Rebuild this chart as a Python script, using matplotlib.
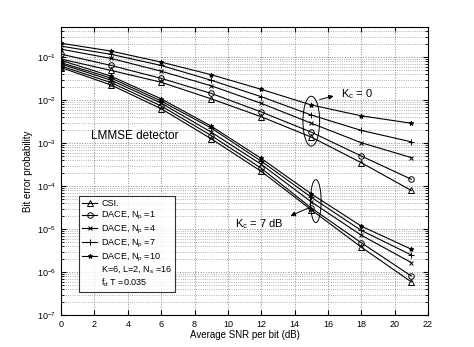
import numpy as np
import matplotlib
matplotlib.use("Agg")
import matplotlib.pyplot as plt
from matplotlib.lines import Line2D
from matplotlib.ticker import NullFormatter

plt.rcParams["font.family"] = ["Liberation Sans", "DejaVu Sans"]

snr = [0, 3, 6, 9, 12, 15, 18, 21]

# K_c = 0 (curvas superiores)
csi_k0 = [0.090, 0.049, 0.026, 0.0107, 0.0041, 0.00138, 3.5e-4, 7.9e-5]
np1_k0 = [0.117, 0.064, 0.032, 0.0143, 0.0053, 0.0018, 5.0e-4, 1.44e-4]
np4_k0 = [0.153, 0.093, 0.047, 0.0215, 0.0084, 0.0029, 1.02e-3, 4.6e-4]
np7_k0 = [0.180, 0.116, 0.064, 0.029, 0.012, 0.0045, 1.97e-3, 1.07e-3]
np10_k0 = [0.210, 0.138, 0.0765, 0.039, 0.0178, 0.0077, 4.3e-3, 2.9e-3]

# K_c = 7 dB (curvas inferiores)
csi_k7 = [0.057, 0.0224, 0.0063, 0.00126, 2.2e-4, 2.8e-5, 3.8e-6, 5.9e-7]
np1_k7 = [0.062, 0.0255, 0.0073, 0.0015, 2.6e-4, 3.1e-5, 4.8e-6, 8.1e-7]
np4_k7 = [0.069, 0.029, 0.0085, 0.0018, 3.2e-4, 4.3e-5, 7.2e-6, 1.66e-6]
np7_k7 = [0.074, 0.0325, 0.0095, 0.00224, 3.8e-4, 5.5e-5, 9.3e-6, 2.5e-6]
np10_k7 = [0.084, 0.036, 0.0107, 0.00248, 4.4e-4, 6.6e-5, 1.17e-5, 3.4e-6]

etiquetas = ["CSI.", "DACE, N$_\\mathregular{p}$ =1", "DACE, N$_\\mathregular{p}$ =4",
             "DACE, N$_\\mathregular{p}$ =7", "DACE, N$_\\mathregular{p}$ =10"]
notas = ["K=6, L=2, N$_\\mathregular{s}$ =16", "f$_\\mathregular{d}$ T =0.035"]
marcadores = [dict(marker="^", mfc="none", ms=4),
              dict(marker="o", mfc="none", ms=4),
              dict(marker="x", ms=3),
              dict(marker="+", ms=4.5),
              dict(marker="*", ms=3.5)]

fig = plt.figure(figsize=(4.74, 3.47), dpi=100)
ax = fig.add_axes([0.129, 0.092, 0.774, 0.830])

grupos_k0 = [csi_k0, np1_k0, np4_k0, np7_k0, np10_k0]
grupos_k7 = [csi_k7, np1_k7, np4_k7, np7_k7, np10_k7]
for serie, m in zip(grupos_k0 + grupos_k7, marcadores + marcadores):
    ax.semilogy(snr, serie, color="black", lw=0.8, mew=0.7, **m)

ax.set_xlim(0, 22)
ax.set_ylim(1e-7, 0.5)
ax.set_xticks(np.arange(0, 23, 2))
ax.yaxis.set_minor_formatter(NullFormatter())
ax.grid(True, which="major", ls=":", color="#888888", lw=0.7)
ax.grid(True, which="minor", axis="y", ls=":", color="#999999", lw=0.6)
ax.tick_params(labelsize=6.5, direction="in", which="both", top=True, right=True)
ax.set_xlabel("Average SNR per bit (dB)", fontsize=7, labelpad=1)
ax.set_ylabel("Bit error probability", fontsize=7)
ax.yaxis.set_label_coords(-0.078, 0.5)

ax.text(1.8, 1.45e-3, "LMMSE detector", fontsize=8.5, va="center")

# elipses en coordenadas de datos (eje logarítmico)
t = np.linspace(0, 2 * np.pi, 200)
ax.plot(15 + 0.5 * np.cos(t), 10 ** (-2.49 + 0.58 * np.sin(t)), color="black", lw=0.7)
ax.plot(15.27 + 0.32 * np.cos(t), 10 ** (-4.35 + 0.5 * np.sin(t)), color="black", lw=0.7)

ax.annotate("", xy=(16.5, 10 ** -1.89), xytext=(15.35, 10 ** -2.0),
            arrowprops=dict(arrowstyle="-|>", color="black", lw=0.7, mutation_scale=7))
ax.text(16.8, 10 ** -1.85, "K$_\\mathregular{c}$ = 0", fontsize=8, va="center")
ax.annotate("", xy=(13.6, 10 ** -4.72), xytext=(15.0, 10 ** -4.48),
            arrowprops=dict(arrowstyle="-|>", color="black", lw=0.7, mutation_scale=7))
ax.text(10.4, 10 ** -4.88, "K$_\\mathregular{c}$ = 7 dB", fontsize=8, va="center")

manejadores = [Line2D([], [], color="black", lw=0.8, mew=0.7, **m) for m in marcadores]
manejadores += [Line2D([], [], color="none"), Line2D([], [], color="none")]
leyenda = ax.legend(manejadores, etiquetas + notas,
                    loc="lower left", bbox_to_anchor=(0.049, 0.081), fontsize=6.5,
                    frameon=True, fancybox=False, edgecolor="black",
                    handlelength=1.6, handletextpad=0.5, labelspacing=0.08,
                    borderpad=0.35, borderaxespad=0)
leyenda.get_frame().set_linewidth(0.8)

fig.savefig("out.png", dpi=100)
